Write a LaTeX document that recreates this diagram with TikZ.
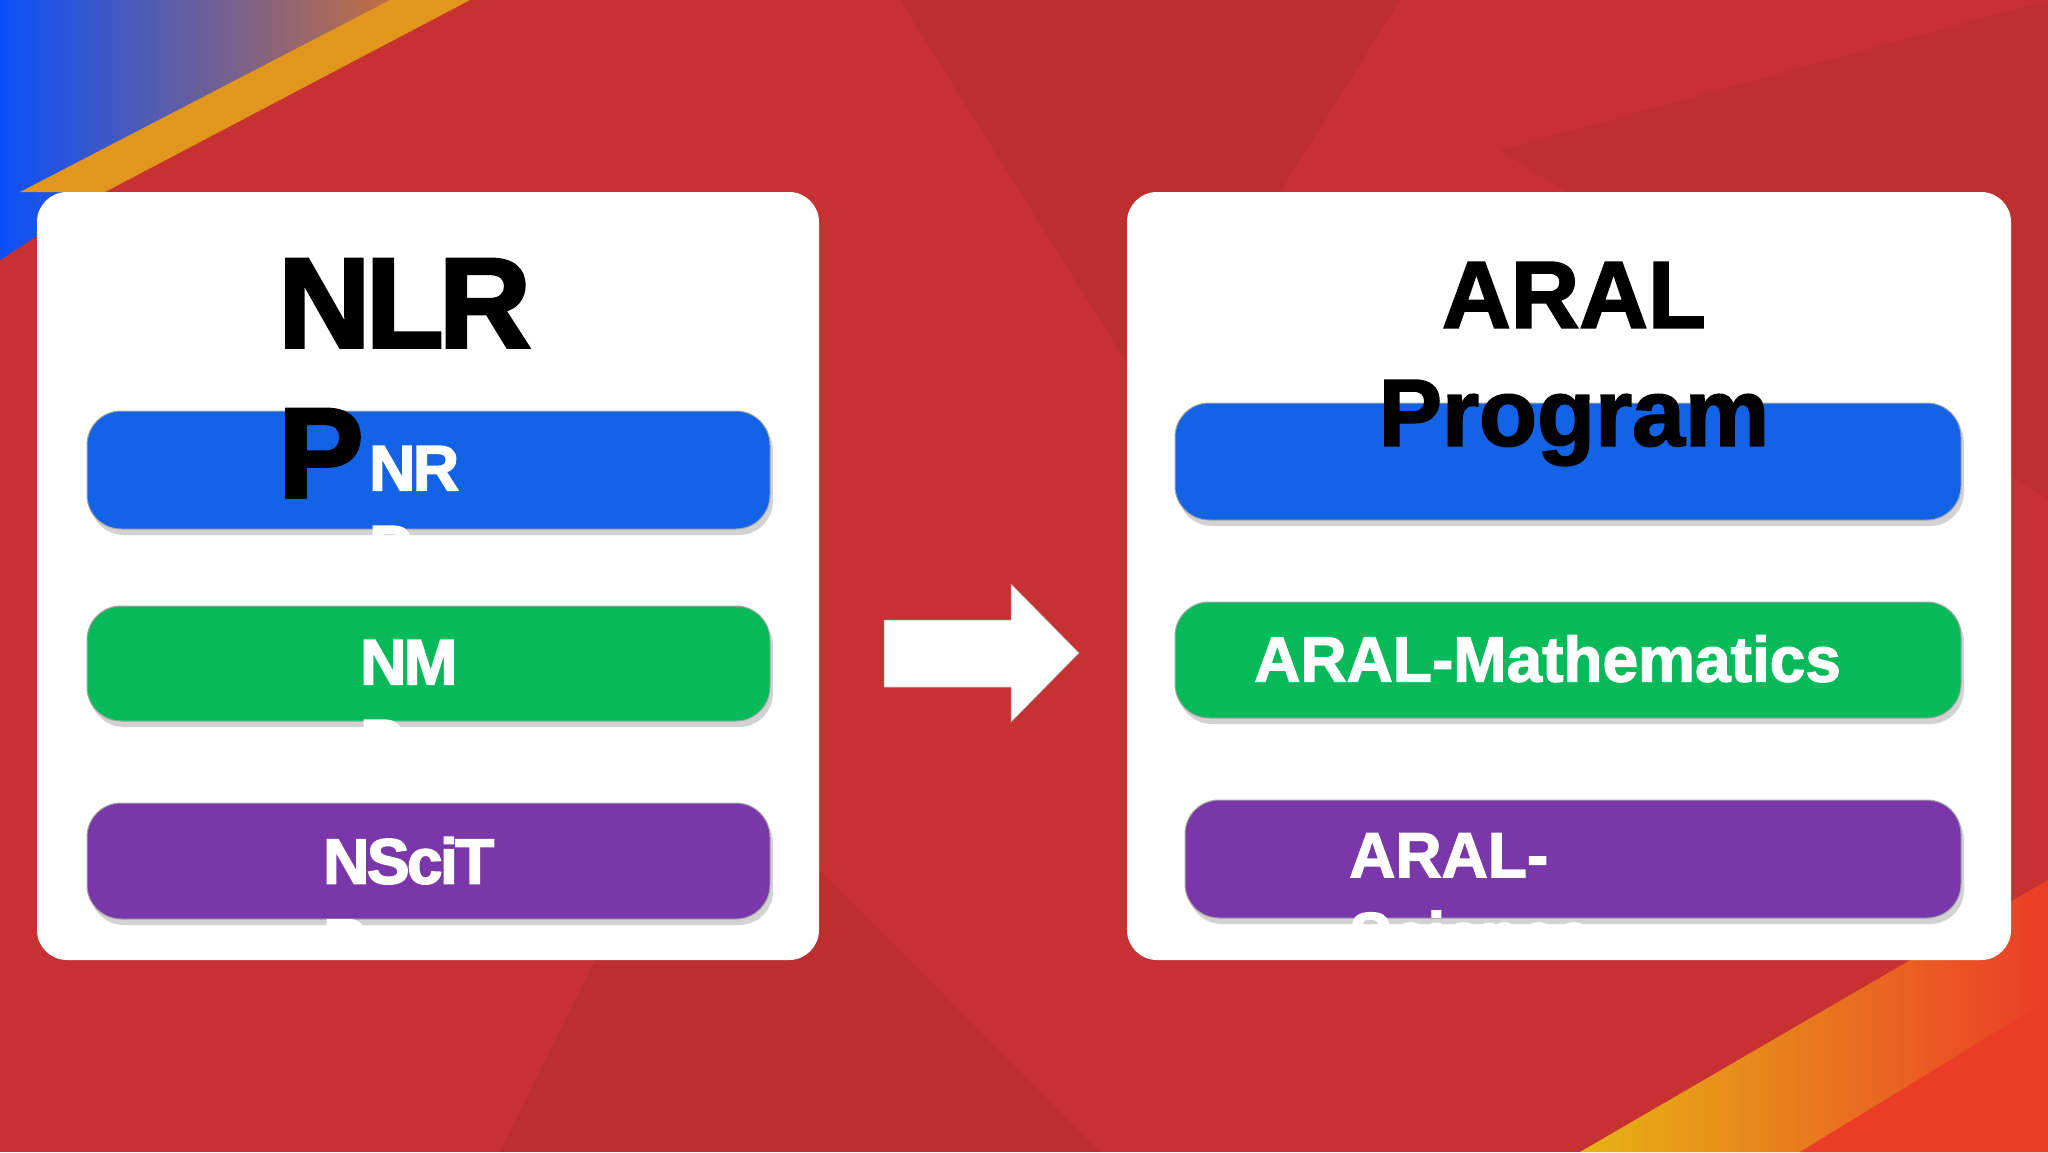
\documentclass[tikz,border=0pt]{standalone}
\usepackage{fontspec}
\setmainfont{Liberation Sans}
\newfontfamily\tight[LetterSpace=-4,FakeBold=2.5]{Liberation Sans}
\newfontfamily\heavy[FakeBold=2]{Liberation Sans}
\usetikzlibrary{shadows}
\definecolor{bgred}{HTML}{C83132}
\definecolor{bblue}{HTML}{1263E6}
\definecolor{bgreen}{HTML}{06BA5A}
\definecolor{bpurple}{HTML}{7A37AA}
\definecolor{cblue}{RGB}{10,80,250}
\definecolor{corange}{RGB}{200,110,60}
\definecolor{cyellow}{RGB}{225,150,30}
\definecolor{cyel2}{RGB}{230,180,20}
\definecolor{cred2}{RGB}{235,60,40}
\tikzset{
  panel/.style={fill=white,rounded corners=30pt},
  bar/.style={rounded corners=34pt,draw=black!35,line width=1pt,drop shadow={shadow xshift=3pt,shadow yshift=-6pt,opacity=0.35}},
  wtxt/.style={text=white,font=\tight\bfseries\fontsize{64}{80}\selectfont,anchor=north west,inner sep=0pt,align=left},
  btxt/.style={text=black,font=\tight\bfseries,anchor=north west,inner sep=0pt,align=left}
}
\begin{document}
\begin{tikzpicture}[x=1pt,y=-1pt]
\useasboundingbox (0,0) rectangle (2048,1152);
\fill[bgred] (0,0) rectangle (2048,1152);
\fill[black,opacity=0.05] (900,0)--(1400,0)--(1150,400)--cycle;
\fill[black,opacity=0.05] (700,750)--(1100,1152)--(500,1152)--cycle;
\fill[black,opacity=0.04] (1500,150)--(2048,0)--(2048,500)--cycle;
\shade[left color=cblue,right color=corange] (0,0)--(400,0)--(0,260)--cycle;
\fill[cyellow] (390,0)--(470,0)--(105,192)--(20,192)--cycle;
\shade[left color=cyel2,right color=cred2] (1580,1152)--(2048,880)--(2048,1152)--cycle;
\fill[cred2] (1800,1152)--(2048,1000)--(2048,1152)--cycle;
\fill[panel] (37,192) rectangle (819,960);
\fill[panel] (1127,192) rectangle (2011,960);
\node[bar,fill=bblue,minimum width=683,minimum height=118,inner sep=0] (lb) at (428.5,470) {};
\node[bar,fill=bgreen,minimum width=683,minimum height=115,inner sep=0] (lg) at (428.5,663.5) {};
\node[bar,fill=bpurple,minimum width=683,minimum height=116,inner sep=0] (lp) at (428.5,861) {};
\node[bar,fill=bblue,minimum width=786,minimum height=117,inner sep=0] (rb) at (1568,461.5) {};
\node[bar,fill=bgreen,minimum width=786,minimum height=116,inner sep=0] (rg) at (1568,660) {};
\node[bar,fill=bpurple,minimum width=776,minimum height=118,inner sep=0] (rp) at (1573,859) {};
\node[btxt,font=\tight\bfseries\fontsize{128}{150}\selectfont] (t1) at (278,259) {NLR\\P};
\node[btxt,font=\heavy\bfseries\fontsize{95}{118}\selectfont,align=center,anchor=north] (t2) at (1574,262) {ARAL\\Program};
\begin{scope}
\clip (37,192) rectangle (819,935);
\node[wtxt] (a1) at (369,446) {NR\\P};
\node[wtxt] (a2) at (360,640) {NM\\P};
\node[wtxt] (a3) at (323,837) {NSciT\\P};
\end{scope}
\node[wtxt,font=\heavy\bfseries\fontsize{64}{80}\selectfont] (a4) at (1254,635) {ARAL-Mathematics};
\begin{scope}
\clip (1127,192) rectangle (2011,935);
\node[wtxt,font=\heavy\bfseries\fontsize{64}{80}\selectfont] (a5) at (1349,833) {ARAL-\\Science};
\end{scope}
\fill[white,draw=black!30,line width=0.5pt] (884,620)--(1011,620)--(1011,584)--(1079,653)--(1011,722)--(1011,687)--(884,687)--cycle;
\end{tikzpicture}
\end{document}
